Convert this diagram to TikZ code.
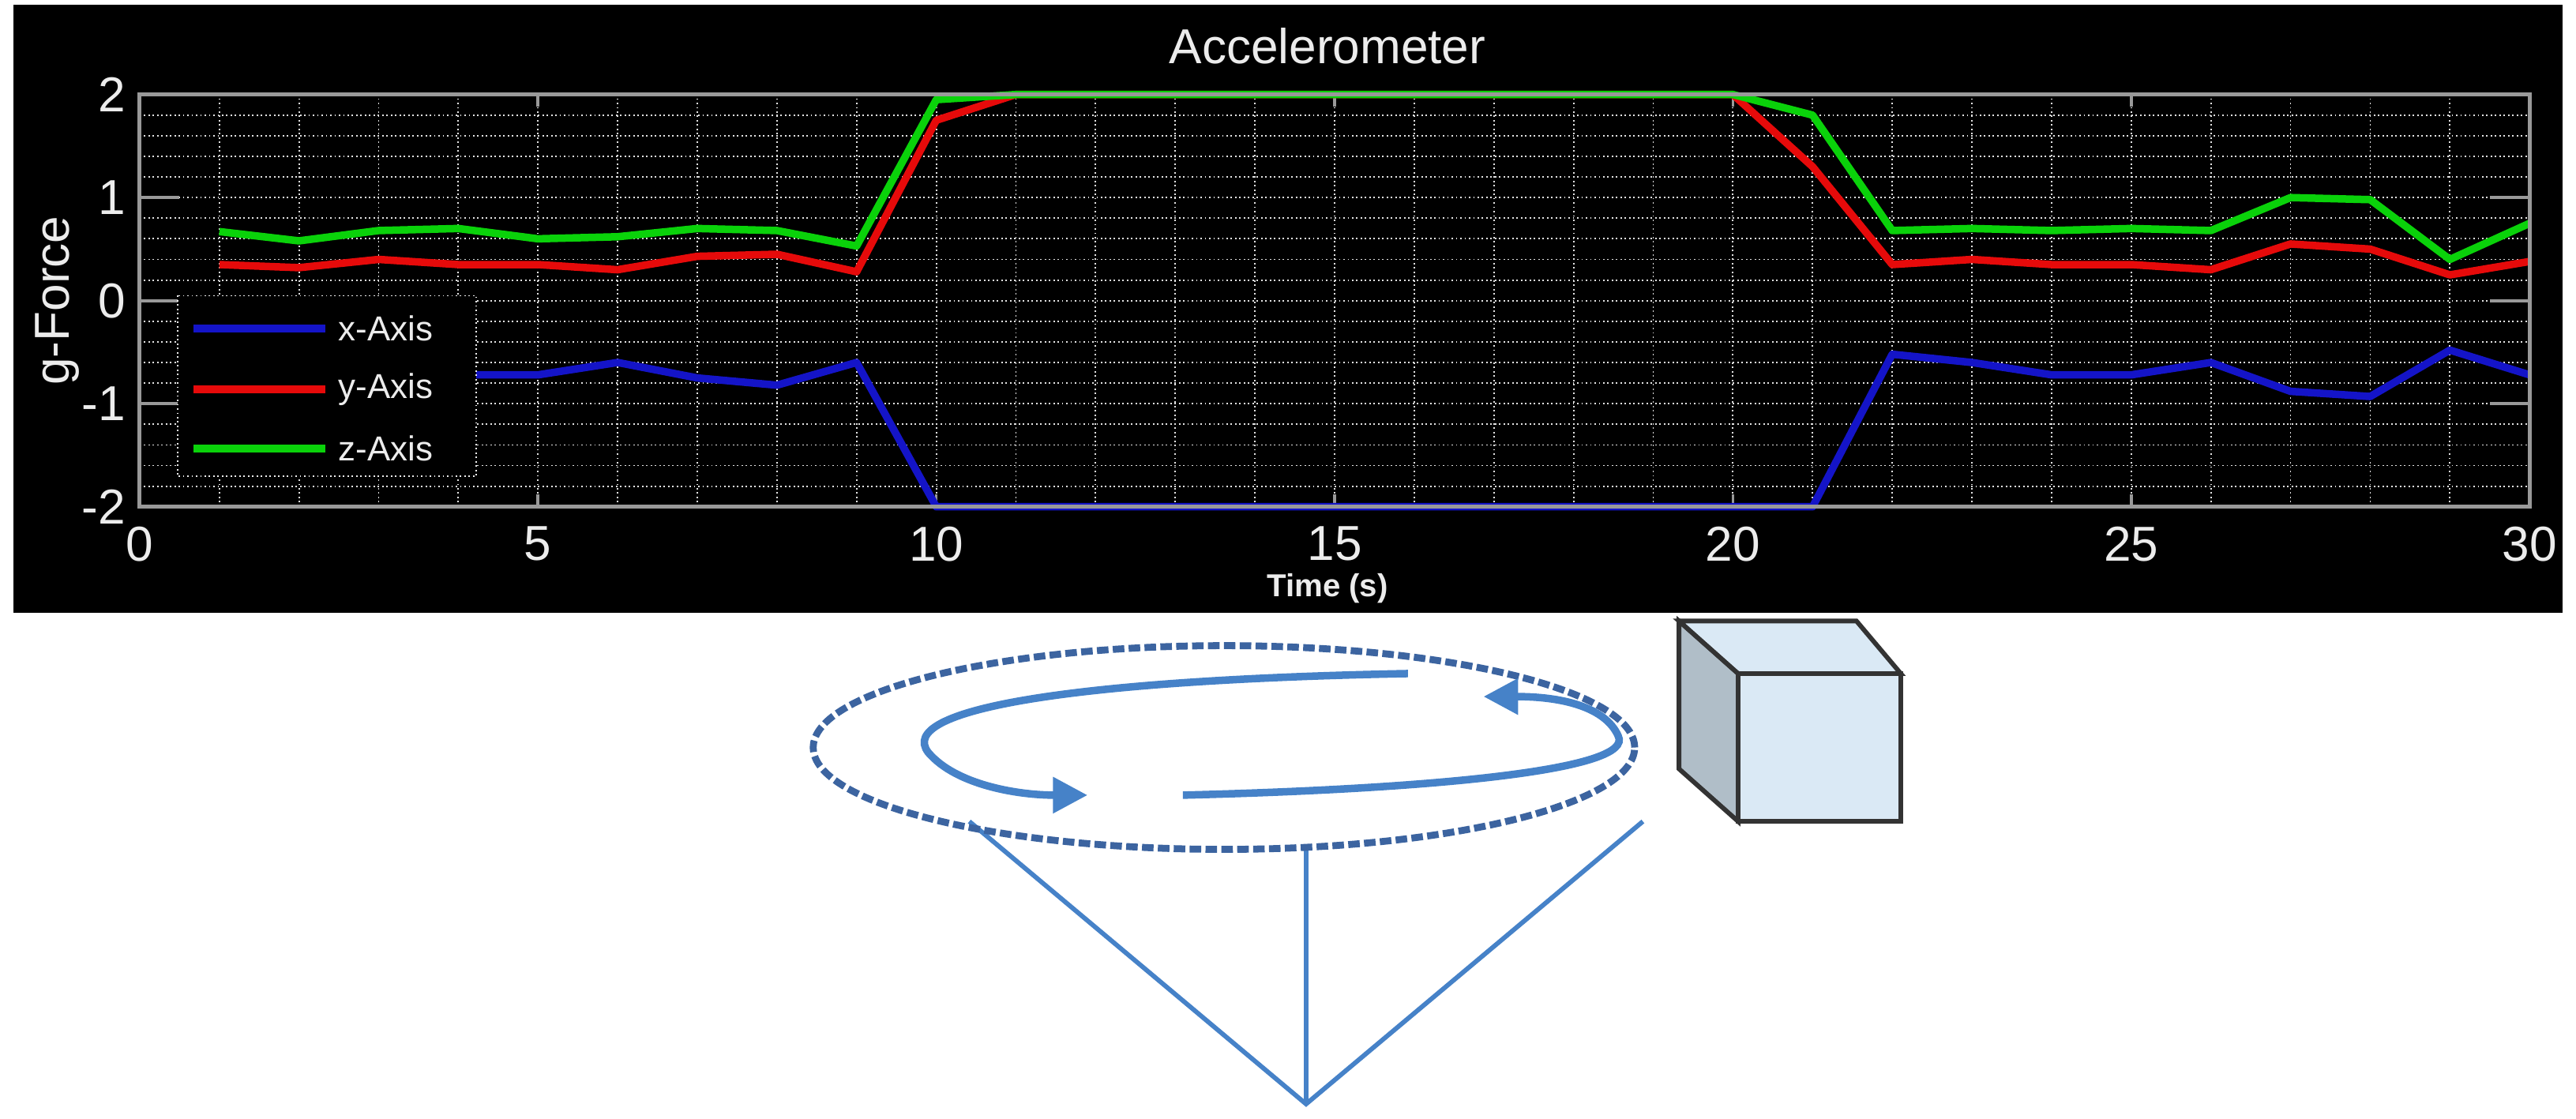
\documentclass[tikz,border=0pt]{standalone}
\usepackage{fontspec}
\setmainfont{Liberation Sans}
\usetikzlibrary{arrows.meta}
\definecolor{pblue}{RGB}{20,20,200}
\definecolor{pred}{RGB}{230,10,10}
\definecolor{pgreen}{RGB}{10,210,10}
\definecolor{dblue}{RGB}{60,100,160}
\definecolor{lblue}{RGB}{70,130,200}
\definecolor{cubefront}{RGB}{218,233,245}
\definecolor{cubeside}{RGB}{176,190,200}
\tikzset{lbl/.style={text=gray!15,font=\fontsize{17}{17}\selectfont},
 leg/.style={text=gray!15,font=\fontsize{12}{12}\selectfont},
 curve/.style={line width=2.6pt,line join=round}}
\begin{document}
\begin{tikzpicture}[x=0.02cm,y=0.02cm]
\useasboundingbox (0,0) rectangle (1568,681);
\fill[white] (0,0) rectangle (1568,681);
\fill[black] (8,681-3) rectangle (1560,681-373);
\node[lbl] (title) at (808,681-28) {Accelerometer};
\node[lbl,rotate=90] (ylab) at (35,681-183) {g-Force};
\node[text=gray!15,font=\bfseries\fontsize{11}{11}\selectfont] (xlab) at (808,681-358) {Time (s)};
\begin{scope}[shift={(85,681-183)},x=0.97cm,y=1.255cm]
 \foreach \t in {1,...,29} \draw[gray!22,densely dotted,line width=0.5pt] (\t,-2)--(\t,2);
 \foreach \g in {-1.8,-1.6,...,1.9} \draw[gray!22,densely dotted,line width=0.5pt] (0,\g)--(30,\g);
 \foreach \t in {0,5,...,30} {\draw[gray!80,line width=1pt] (\t,-2)--(\t,-1.88); \draw[gray!80,line width=1pt] (\t,2)--(\t,1.88);
   \node[lbl] (xt\t) at (\t,-2.36) {\t};}
 \foreach \g in {-2,...,2} {\draw[gray!80,line width=1pt] (0,\g)--(0.5,\g); \draw[gray!80,line width=1pt] (30,\g)--(29.5,\g);
   \node[lbl,anchor=east] (yt\g) at (-0.05,\g) {\g};}
 \draw[curve,pblue] plot coordinates {(1,-0.72)(2,-0.72)(3,-0.72)(4,-0.72)(5,-0.72)(6,-0.6)(7,-0.75)(8,-0.82)(9,-0.6)(10,-2)(11,-2)(21,-2)(22,-0.52)(23,-0.6)(24,-0.72)(25,-0.72)(26,-0.6)(27,-0.88)(28,-0.93)(29,-0.48)(30,-0.72)};
 \draw[curve,pred] plot coordinates {(1,0.35)(2,0.32)(3,0.4)(4,0.35)(5,0.35)(6,0.3)(7,0.43)(8,0.45)(9,0.28)(10,1.75)(11,2)(20,2)(21,1.3)(22,0.35)(23,0.4)(24,0.35)(25,0.35)(26,0.3)(27,0.55)(28,0.5)(29,0.25)(30,0.38)};
 \draw[curve,pgreen] plot coordinates {(1,0.67)(2,0.58)(3,0.68)(4,0.7)(5,0.6)(6,0.62)(7,0.7)(8,0.68)(9,0.53)(10,1.95)(11,2)(20,2)(21,1.8)(22,0.68)(23,0.7)(24,0.68)(25,0.7)(26,0.68)(27,1.0)(28,0.98)(29,0.4)(30,0.75)};
 \draw[gray!80,line width=1.3pt] (0,-2) rectangle (30,2);
\end{scope}
\fill[black] (108,681-180) rectangle (290,681-290);
\draw[gray!15,densely dotted,line width=0.5pt] (108,681-180) rectangle (290,681-290);
\draw[curve,pblue] (118,681-200)--(198,681-200);
\draw[curve,pred] (118,681-237)--(198,681-237);
\draw[curve,pgreen] (118,681-273)--(198,681-273);
\node[leg,anchor=west] (lx) at (200,681-200) {x-Axis};
\node[leg,anchor=west] (ly) at (200,681-237) {y-Axis};
\node[leg,anchor=west] (lz) at (200,681-273) {z-Axis};
\coordinate (apex) at (795,681-672);
\draw[lblue,line width=1.6pt] (590,681-500)--(apex)--(1000,681-500);
\draw[lblue,line width=1.6pt] (795,681-517)--(apex);
\draw[dblue,line width=2.4pt,dash pattern=on 4pt off 1.5pt] (745,681-455) ellipse (250 and 62);
\draw[lblue,line width=2.6pt,-{Triangle[length=12pt,width=12pt]}] (857,681-410) .. controls (650,681-414) and (545,681-432) .. (565,681-458) .. controls (582,681-478) and (620,681-484) .. (662,681-484);
\draw[lblue,line width=2.6pt,-{Triangle[length=12pt,width=12pt]}] (720,681-484) .. controls (880,681-480) and (995,681-468) .. (985,681-448) .. controls (977,681-430) and (950,681-424) .. (903,681-424);
\filldraw[fill=cubeside,draw=black!80,line width=1.6pt] (1022,681-378)--(1058,681-410)--(1058,681-500)--(1022,681-468)--cycle;
\filldraw[fill=cubefront,draw=black!80,line width=1.6pt] (1022,681-378)--(1130,681-378)--(1157,681-410)--(1058,681-410)--cycle;
\filldraw[fill=cubefront,draw=black!80,line width=1.6pt] (1058,681-410) rectangle (1157,681-500);
\end{tikzpicture}
\end{document}
